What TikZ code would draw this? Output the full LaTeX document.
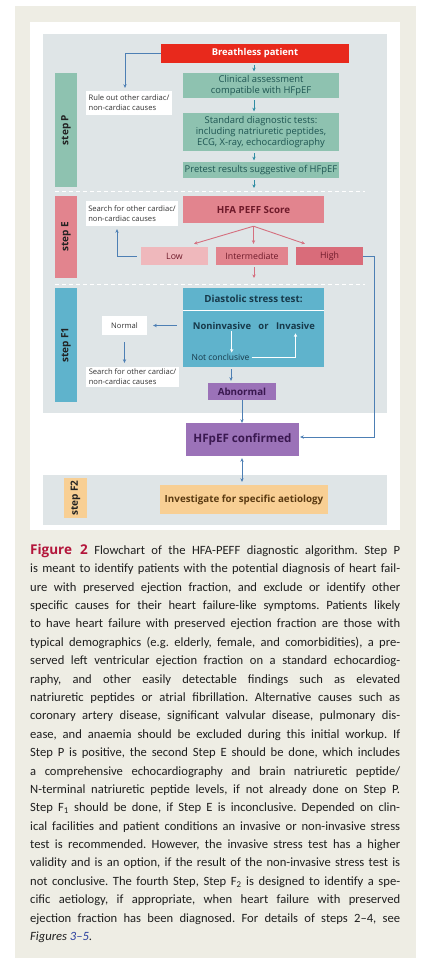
\documentclass[tikz,border=0pt]{standalone}
\usepackage{fontspec}
\setmainfont{Carlito}
\newfontfamily\flowfont{Open Sans}
\usetikzlibrary{arrows.meta}

\definecolor{pagebg}{HTML}{EEEDE4}
\definecolor{panelbg}{HTML}{DFE5E7}
\definecolor{hfred}{HTML}{E8291C}
\definecolor{greenbox}{HTML}{8EC2B0}
\definecolor{greentext}{HTML}{1E5552}
\definecolor{pinklight}{HTML}{EFB8BC}
\definecolor{pinkmid}{HTML}{E2848E}
\definecolor{pinkdark}{HTML}{D96C7A}
\definecolor{pinktext}{HTML}{6E1A2A}
\definecolor{pinkarrow}{HTML}{D56F7F}
\definecolor{bluebox}{HTML}{5FB3CC}
\definecolor{bluetext}{HTML}{17394A}
\definecolor{purplebox}{HTML}{9B72B8}
\definecolor{purpletext}{HTML}{3A1850}
\definecolor{orangebox}{HTML}{F8CF94}
\definecolor{orangetext}{HTML}{5B3B12}
\definecolor{labeltext}{HTML}{222222}
\definecolor{flowblue}{HTML}{4D7FB4}
\definecolor{tealarrow}{HTML}{2F8CA3}
\definecolor{figred}{HTML}{B3163B}
\definecolor{linkblue}{HTML}{2A3F9E}

\hbadness=10000

\begin{document}
\begin{tikzpicture}[x=1pt, y=-1pt,
    box/.style={inner sep=1pt, align=center, font=\flowfont\fontsize{9.4}{11.4}\selectfont},
    bbox/.style={box, font=\flowfont\bfseries\fontsize{9.8}{11}\selectfont},
    level/.style={box, font=\flowfont\fontsize{8.8}{10}\selectfont, text=pinktext,
                  minimum height=18pt},
    steplabel/.style={rotate=90, inner sep=0pt, minimum height=22pt,
                      font=\flowfont\bfseries\fontsize{10}{11}\selectfont, text=labeltext},
    note/.style={fill=white, inner sep=0pt, align=left, text=black!80,
                 font=\flowfont\fontsize{7.6}{10}\selectfont},
    >={Stealth[length=3.6pt, width=3.4pt]},
    flow/.style={->, line width=0.9pt, draw=flowblue},
    whitearr/.style={->, line width=1pt, draw=white},
    sep/.style={white, line width=1pt, dash pattern=on 4pt off 3pt},
    caption/.style={inner sep=0pt, text width=370pt, align=justify, text=black!88,
                    font=\fontsize{12.6}{18.38}\selectfont\frenchspacing},
  ]
  \useasboundingbox (0,0) rectangle (437,970);
  \fill[pagebg] (15,6) rectangle (416,958);
  \fill[white] (30,22) rectangle (400,530);
  \fill[panelbg] (43,34) rectangle (387,413);
  \fill[panelbg] (43,475) rectangle (387,525);
  \draw[sep] (55,191) -- (365,191);
  \draw[sep] (55,284) -- (365,284);

  % step labels
  \node[steplabel, fill=greenbox, minimum width=114pt] (lblP) at (66,130) {step P};
  \node[steplabel, fill=pinkmid, minimum width=82pt] (lblE) at (66,237) {step E};
  \node[steplabel, fill=bluebox, minimum width=114pt] (lblF1) at (66,345) {step F1};
  \node[steplabel, fill=orangebox, minimum width=40pt, minimum height=23pt] (lblF2) at (75.5,498) {step F2};

  % step P
  \coordinate (spine) at (254,0);
  \node[bbox, fill=hfred, text=white, font=\flowfont\bfseries\fontsize{9.4}{10}\selectfont,
        minimum width=188pt, minimum height=19pt] (breath) at (255,53.5) {Breathless patient};
  \node[box, fill=greenbox, text=greentext, minimum width=156pt, minimum height=25pt] (clin)
    at (261,85.5) {Clinical assessment\\compatible with HFpEF};
  \node[box, fill=greenbox, text=greentext, minimum width=156pt, minimum height=38pt] (tests)
    at (261,132) {Standard diagnostic tests:\\including natriuretic peptides,\\ECG, X-ray, echocardiography};
  \node[box, fill=greenbox, text=greentext, minimum width=156pt, minimum height=16pt] (pretest)
    at (261,170) {Pretest results suggestive of HFpEF};
  \node[note, minimum width=86pt, minimum height=24pt] (ruleout) at (129,103)
    {Rule out other cardiac/\\non-cardiac causes};
  \coordinate (pend) at (254,188);

  \draw[flow] (breath.west) -| ([xshift=-4pt,yshift=3pt]ruleout.north);
  \draw[flow, draw=tealarrow, shorten <=2pt, shorten >=1.5pt] (breath.south -| spine) -- (clin.north -| spine);
  \draw[flow, draw=tealarrow, shorten <=2pt, shorten >=1.5pt] (clin.south -| spine) -- (tests.north -| spine);
  \draw[flow, draw=tealarrow, shorten <=2pt, shorten >=1.5pt] (tests.south -| spine) -- (pretest.north -| spine);
  \draw[flow, draw=tealarrow, shorten <=2pt] (pretest.south -| spine) -- (pend);

  % step E
  \node[bbox, fill=pinkmid, text=pinktext, minimum width=141pt, minimum height=27pt] (hfa)
    at (253.5,209.5) {HFA PEFF Score};
  \node[note, minimum width=92pt, minimum height=25pt] (search1) at (132,213.5)
    {Search for other cardiac/\\non-cardiac causes};
  \node[level, fill=pinklight, minimum width=67pt] (low) at (174.5,256) {Low};
  \node[level, fill=pinkmid, minimum width=72pt] (inter) at (252,256) {Intermediate};
  \node[level, fill=pinkdark, minimum width=67pt] (high) at (329.5,256) {High};
  \coordinate (eend) at (254,278);

  \draw[flow, draw=pinkarrow] ([yshift=-3pt]hfa.south) -- ([xshift=19.5pt,yshift=3pt]low.north);
  \draw[flow, draw=pinkarrow] ([yshift=-3pt]hfa.south) -- ([yshift=3pt]low.north -| hfa.south);
  \draw[flow, draw=pinkarrow] ([yshift=-3pt]hfa.south) -- ([xshift=-24.5pt,yshift=3pt]high.north);
  \draw[flow] ([xshift=-4pt]low.west) -| ([xshift=-15pt,yshift=-3pt]search1.south);
  \draw[flow, draw=pinkarrow, shorten <=2pt] (inter.south -| spine) -- (eend);

  % step F1
  \node[bbox, fill=bluebox, text=bluetext, minimum width=141pt, minimum height=22pt] (dst)
    at (253.5,299) {Diastolic stress test:};
  \node[box, fill=bluebox, minimum width=141pt, minimum height=57pt] (stress) at (253.5,338.5) {};
  \draw[white, line width=1pt] (dst.south west) -- (dst.south east);
  \node[bbox, text=bluetext, anchor=base, font=\flowfont\bfseries\fontsize{9.4}{10}\selectfont] (noninv)
    at (222,329) {Noninvasive};
  \node[bbox, text=bluetext, anchor=base, font=\flowfont\bfseries\fontsize{9.4}{10}\selectfont] (orword)
    at (263.5,329) {or};
  \node[bbox, text=bluetext, anchor=base, font=\flowfont\bfseries\fontsize{9.4}{10}\selectfont] (inv)
    at (295.5,329) {Invasive};
  \node[box, text=bluetext, font=\flowfont\fontsize{8.5}{10}\selectfont] (notcon) at (220.5,357) {Not conclusive};
  \node[note, align=center, minimum width=45pt, minimum height=19pt] (normal) at (124.5,325.5) {Normal};
  \node[note, minimum width=93pt, minimum height=20pt] (search2) at (132.5,377)
    {Search for other cardiac/\\non-cardiac causes};
  \node[bbox, fill=purplebox, text=purpletext, minimum width=68pt, minimum height=17pt] (abn)
    at (242,391.5) {Abnormal};

  \draw[whitearr, shorten <=1pt] ([xshift=9.7pt]noninv.south) -- ([xshift=9.7pt]noninv.south |- notcon.north);
  \draw[whitearr, shorten >=3pt] ([xshift=1pt]notcon.east) -| (inv.south);
  \draw[flow, shorten <=6pt, shorten >=6pt] (stress.west |- normal.east) -- (normal.east);
  \draw[flow, shorten <=7pt, shorten >=4pt] (normal.south) -- (normal.south |- search2.north);
  \draw[flow, shorten <=2pt, shorten >=2pt] ([xshift=-22.5pt]stress.south) -- ([xshift=-22.5pt]stress.south |- abn.north);

  % confirmation and step F2
  \node[bbox, fill=purplebox, text=purpletext, font=\flowfont\bfseries\fontsize{11.6}{13}\selectfont,
        minimum width=113pt, minimum height=33pt] (hfpef) at (242.5,439.5) {HFpEF confirmed};
  \node[bbox, fill=orangebox, text=orangetext, minimum width=168pt, minimum height=29pt] (invest)
    at (244,499.5) {Investigate for specific aetiology};

  \draw[flow] (abn.south) -- (abn.south |- hfpef.north);
  \draw[flow] (high.east) -- ++(11,0) |- ([yshift=2.5pt,xshift=1pt]hfpef.east);
  \draw[flow, <->, shorten <=2pt, shorten >=3pt] (abn.south |- hfpef.south) -- (abn.south |- invest.north);

  % caption
  \node[caption, anchor=north west] (cap) at (30,544) {{\color{figred}\flowfont\bfseries\fontsize{13.5}{18}\selectfont Figure 2} Flowchart of the HFA-PEFF diagnostic algorithm. Step P\linebreak
    is meant to identify patients with the potential diagnosis of heart fail-\linebreak
    ure with preserved ejection fraction, and exclude or identify other\linebreak
    specific causes for their heart failure-like symptoms. Patients likely\linebreak
    to have heart failure with preserved ejection fraction are those with\linebreak
    typical demographics (e.g. elderly, female, and comorbidities), a pre-\linebreak
    served left ventricular ejection fraction on a standard echocardiog-\linebreak
    raphy, and other easily detectable findings such as elevated\linebreak
    natriuretic peptides or atrial fibrillation. Alternative causes such as\linebreak
    coronary artery disease, significant valvular disease, pulmonary dis-\linebreak
    ease, and anaemia should be excluded during this initial workup. If\linebreak
    Step P is positive, the second Step E should be done, which includes\linebreak
    a comprehensive echocardiography and brain natriuretic peptide/\linebreak
    N-terminal natriuretic peptide levels, if not already done on Step P.\linebreak
    Step F\textsubscript{1} should be done, if Step E is inconclusive. Depended on clin-\linebreak
    ical facilities and patient conditions an invasive or non-invasive stress\linebreak
    test is recommended. However, the invasive stress test has a higher\linebreak
    validity and is an option, if the result of the non-invasive stress test is\linebreak
    not conclusive. The fourth Step, Step F\textsubscript{2} is designed to identify a spe-\linebreak
    cific aetiology, if appropriate, when heart failure with preserved\linebreak
    ejection fraction has been diagnosed. For details of steps 2--4, see\linebreak
    \textit{Figures {\color{linkblue}3--5}}.};
\end{tikzpicture}
\end{document}
